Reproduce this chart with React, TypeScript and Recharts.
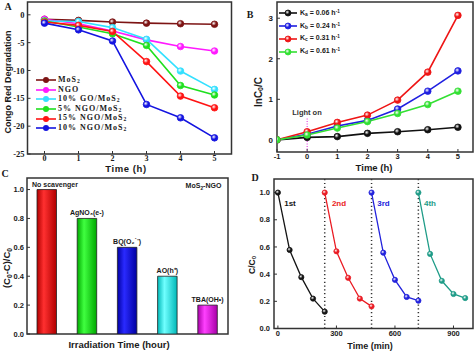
import React from 'react';
import { LineChart, Line, BarChart, Bar, Cell, XAxis, YAxis, ReferenceArea, ReferenceLine, LabelList } from 'recharts';

const SANS = '"Liberation Sans", Arial, sans-serif';
const SERIF = '"Liberation Serif", "Times New Roman", serif';
const INK = '#1a1a1a';

// panel A - Congo red degradation vs time
const hoursA = [0, 1, 2, 3, 4, 5];
const mos2 = [-0.8, -1.0, -1.3, -1.5, -1.6, -1.7];
const ngo = [-0.8, -1.6, -2.9, -4.5, -5.7, -6.5];
const go10 = [-1.1, -1.2, -2.3, -4.4, -10.1, -13.4];
const ngo5 = [-1.1, -2.2, -3.4, -5.5, -12.7, -14.4];
const ngo15 = [-1.3, -1.9, -3.0, -8.4, -14.6, -16.7];
const ngo10 = [-1.5, -2.7, -4.7, -16.1, -18.5, -22.1];
const yTicksA = [0, -5, -10, -15, -20, -25];

// panel B - ln(C0/C) vs time
const hoursB = [-1, 0, 1, 2, 3, 4, 5];
const kA = [0, 0.06, 0.08, 0.16, 0.2, 0.25, 0.31];
const kB = [0, 0.14, 0.34, 0.48, 0.76, 1.2, 1.7];
const kC = [0, 0.2, 0.43, 0.61, 0.98, 1.67, 3.07];
const kD = [0, 0.12, 0.29, 0.45, 0.65, 0.87, 1.2];
const yTicksB = [0, 1, 2, 3];

// panel C - scavenger test
const scavengers = ['No scavenger', 'AgNO₃(e-)', 'BQ(O₂˙⁻)', 'AO(h⁺)', 'TBA(OH•)'];
const removal = [1.0, 0.8, 0.6, 0.4, 0.2];
const yTicksCD = [0, 0.2, 0.4, 0.6, 0.8, 1.0];

// panel D - recycling runs
const cycleNames = ['1st', '2nd', '3rd', '4th'];
const cycleTimes = [
  [0, 60, 120, 180, 240],
  [240, 300, 360, 420, 480],
  [480, 540, 600, 660, 720],
  [720, 780, 840, 900, 960],
];
const cycle1 = [1.0, 0.578, 0.378, 0.22, 0.124];
const cycle2 = [1.0, 0.568, 0.373, 0.22, 0.163];
const cycle3 = [1.0, 0.558, 0.358, 0.232, 0.205];
const cycle4 = [1.0, 0.549, 0.351, 0.254, 0.224];
const runBreaks = [240, 480, 720];
const xTicksD = [0, 300, 600, 900];

const rowsA = hoursA.map((t, i) => ({ t, mos2: mos2[i], ngo: ngo[i], go10: go10[i], ngo5: ngo5[i], ngo15: ngo15[i], ngo10: ngo10[i] }));
const rowsB = hoursB.map((t, i) => ({ t, a: kA[i], b: kB[i], c: kC[i], d: kD[i] }));
const rowsC = scavengers.map((name, i) => ({ x: i + 1, name, v: removal[i] }));
const cycles = [cycle1, cycle2, cycle3, cycle4].map((vals, c) => vals.map((v, i) => ({ t: cycleTimes[c][i], v })));

const Sub = ({ children }: { children: React.ReactNode }) => (
  <span style={{ fontSize: '70%', verticalAlign: '-0.25em' }}>{children}</span>
);
const Sup = ({ children }: { children: React.ReactNode }) => (
  <span style={{ fontSize: '65%', verticalAlign: '0.5em' }}>{children}</span>
);

const seriesA = [
  { key: 'mos2', color: '#7d1414', label: <>MoS<Sub>2</Sub></> },
  { key: 'ngo', color: '#ff1aff', label: <>NGO</> },
  { key: 'go10', color: '#33e0ff', label: <>10% GO/MoS<Sub>2</Sub></> },
  { key: 'ngo5', color: '#1fe01f', label: <>5% NGO/MoS<Sub>2</Sub></> },
  { key: 'ngo15', color: '#ff1414', label: <>15% NGO/MoS<Sub>2</Sub></> },
  { key: 'ngo10', color: '#1414e0', label: <>10% NGO/MoS<Sub>2</Sub></> },
];

const seriesB = [
  { key: 'a', color: '#111111', sub: 'a', k: '0.06' },
  { key: 'b', color: '#1f1fe0', sub: 'b', k: '0.24' },
  { key: 'c', color: '#ee1515', sub: 'c', k: '0.31' },
  { key: 'd', color: '#33e033', sub: 'd', k: '0.61' },
];

const barColors = [
  ['#b00000', '#ff3030'],
  ['#00a800', '#40ff40'],
  ['#0000a0', '#2a2aff'],
  ['#00b8b8', '#70ffff'],
  ['#a800a8', '#ff40ff'],
];

const cycleColors = ['#151515', '#ea1c24', '#2222dc', '#1f9c88'];

const ballGrad = (id: string, color: string) => (
  <radialGradient id={id} key={id} cx="38%" cy="35%" r="65%">
    <stop offset="0%" stopColor="#ffffff" />
    <stop offset="55%" stopColor={color} />
    <stop offset="100%" stopColor={color} />
  </radialGradient>
);

const ballDot = (id: string, color: string, r: number) => (p: any) => {
  if (p.cx == null || p.cy == null) return <g key={p.key} />;
  return <circle key={p.key} cx={p.cx} cy={p.cy} r={r} fill={`url(#${id})`} stroke={color} strokeWidth={0.8} />;
};

const at = (x: number, y: number, extra: React.CSSProperties = {}, rotate = false): React.CSSProperties => ({
  position: 'absolute',
  left: x,
  top: y,
  transform: `translate(-50%, -50%)${rotate ? ' rotate(-90deg)' : ''}`,
  whiteSpace: 'nowrap',
  lineHeight: 1,
  color: INK,
  ...extra,
});

const serifTick = { fontSize: 8, fontFamily: SERIF, fontWeight: 'bold', fill: INK };
const sansTick = { fontSize: 7.5, fontFamily: SANS, fontWeight: 'bold', fill: INK };

const BarLabel = (p: any) => {
  const { x, y, width, index, value } = p;
  const first = index === 0;
  return (
    <text
      x={first ? x - 5 : x + width / 2}
      y={y - 3}
      textAnchor={first ? 'start' : 'middle'}
      fontSize={7}
      fontFamily={SANS}
      fontWeight="bold"
      fill={INK}
    >
      {value}
    </text>
  );
};

function PanelA() {
  return (
    <div style={{ position: 'absolute', left: 0, top: 0 }}>
      <LineChart width={237} height={175} data={rowsA} margin={{ top: 2, right: 5.5, bottom: 0, left: 0 }}>
        <defs>{seriesA.map((s) => ballGrad(`ballA-${s.key}`, s.color))}</defs>
        <XAxis dataKey="t" type="number" domain={[-0.5, 5.5]} ticks={hoursA} allowDataOverflow height={21}
          tickSize={-3} tickMargin={4.5} axisLine={false} tickLine={{ stroke: '#333' }} tick={serifTick} />
        <YAxis type="number" domain={[-25, 2.3]} ticks={yTicksA} allowDataOverflow width={27.5}
          tickSize={-3} tickMargin={6} axisLine={false} tickLine={{ stroke: '#333' }} tick={{ ...serifTick, fontSize: 8.5 }} />
        <ReferenceArea x1={-0.5} x2={5.5} y1={-25} y2={2.3} fill="none" stroke="#333" strokeWidth={1.5} ifOverflow="visible" />
        {seriesA.map((s) => (
          <Line key={s.key} dataKey={s.key} stroke={s.color} strokeWidth={1.6} isAnimationActive={false}
            dot={ballDot(`ballA-${s.key}`, s.color, 3.3)} />
        ))}
      </LineChart>
      <div style={at(8, 7, { fontFamily: SERIF, fontWeight: 'bold', fontSize: 10 })}>A</div>
      <div style={at(7.5, 82, { fontFamily: SANS, fontWeight: 'bold', fontSize: 9 }, true)}>Congo Red Degradation</div>
      <div style={at(126, 168.5, { fontFamily: SANS, fontWeight: 'bold', fontSize: 9.5, letterSpacing: 0.6 })}>Time (h)</div>
      <div style={{ position: 'absolute', left: 36, top: 75.5 }}>
        {seriesA.map((s) => (
          <div key={s.key} style={{ height: 9.6, display: 'flex', alignItems: 'center' }}>
            <svg width={20} height={8} style={{ marginRight: 2 }}>
              <line x1={0} x2={20} y1={4} y2={4} stroke={s.color} strokeWidth={1.6} />
              <circle cx={10} cy={4} r={3} fill={s.color} />
            </svg>
            <span style={{ fontFamily: SERIF, fontWeight: 'bold', fontSize: 8, letterSpacing: 1, color: INK, lineHeight: 1 }}>
              {s.label}
            </span>
          </div>
        ))}
      </div>
    </div>
  );
}

function PanelB() {
  return (
    <div style={{ position: 'absolute', left: 237, top: 0 }}>
      <LineChart width={237} height={175} data={rowsB} margin={{ top: 2, right: 1, bottom: 0, left: 0 }}>
        <defs>{seriesB.map((s) => ballGrad(`ballB-${s.key}`, s.color))}</defs>
        <XAxis dataKey="t" type="number" domain={[-1, 5.5]} ticks={hoursB} allowDataOverflow height={23}
          tickSize={-3} tickMargin={5} axisLine={false} tickLine={{ stroke: '#333' }} tick={sansTick} />
        <YAxis type="number" domain={[-0.3, 3.4]} ticks={yTicksB} allowDataOverflow width={40}
          tickSize={-3} tickMargin={7} axisLine={false} tickLine={{ stroke: '#333' }} tick={{ ...sansTick, fontSize: 8 }} />
        <ReferenceArea x1={-1} x2={5.5} y1={-0.3} y2={3.4} fill="none" stroke="#333" strokeWidth={1.5} ifOverflow="visible" />
        <ReferenceLine segment={[{ x: 0, y: -0.3 }, { x: 0, y: 0.55 }]} stroke="#e020e0" strokeDasharray="1 1.5" strokeWidth={1} />
        {seriesB.map((s) => (
          <Line key={s.key} dataKey={s.key} stroke={s.color} strokeWidth={1.6} isAnimationActive={false}
            dot={ballDot(`ballB-${s.key}`, s.color, 3.3)} />
        ))}
      </LineChart>
      <div style={at(13, 15, { fontFamily: SERIF, fontWeight: 'bold', fontSize: 10 })}>B</div>
      <div style={at(22, 92, { fontFamily: SANS, fontWeight: 'bold', fontSize: 10 }, true)}>lnC<Sub>0</Sub>/C</div>
      <div style={at(137, 168, { fontFamily: SANS, fontWeight: 'bold', fontSize: 9.5 })}>Time (h)</div>
      <div style={at(70, 113, { fontFamily: SANS, fontWeight: 'bold', fontSize: 7.5, color: '#333' })}>Light on</div>
      <div style={{ position: 'absolute', left: 42, top: 7 }}>
        {seriesB.map((s) => (
          <div key={s.key} style={{ height: 12.8, display: 'flex', alignItems: 'center' }}>
            <svg width={18} height={8} style={{ marginRight: 3 }}>
              <line x1={0} x2={18} y1={4} y2={4} stroke={s.color} strokeWidth={1.6} />
              <circle cx={9} cy={4} r={3} fill={`url(#ballB-${s.key})`} stroke={s.color} strokeWidth={0.8} />
            </svg>
            <span style={{ fontFamily: SANS, fontWeight: 'bold', fontSize: 7, color: INK, lineHeight: 1 }}>
              K<Sub>{s.sub}</Sub> = {s.k} h<Sup>-1</Sup>
            </span>
          </div>
        ))}
      </div>
    </div>
  );
}

function PanelC() {
  return (
    <div style={{ position: 'absolute', left: 0, top: 175 }}>
      <BarChart width={237} height={176} data={rowsC} margin={{ top: 3, right: 9, bottom: 0, left: 0 }}>
        <defs>
          {barColors.map(([dark, light], i) => (
            <linearGradient key={i} id={`barC-${i}`} x1="0" x2="1" y1="0" y2="0">
              <stop offset="0%" stopColor={dark} />
              <stop offset="35%" stopColor={light} />
              <stop offset="100%" stopColor={dark} />
            </linearGradient>
          ))}
        </defs>
        <XAxis dataKey="x" type="number" domain={[0.5, 5.5]} ticks={[1, 2, 3, 4, 5]} allowDataOverflow height={17}
          tick={false} tickLine={false} axisLine={false} />
        <YAxis type="number" domain={[0, 1.08]} ticks={yTicksCD} allowDataOverflow width={27}
          tickSize={-3} tickMargin={6} axisLine={false} tickLine={{ stroke: '#333' }} tick={{ ...sansTick, fontSize: 7.5 }}
          tickFormatter={(v: number) => v.toFixed(1)} />
        <ReferenceArea x1={0.5} x2={5.5} y1={0} y2={1.08} fill="none" stroke="#333" strokeWidth={1.5} ifOverflow="visible" />
        <Bar dataKey="v" barSize={19.5} stroke="#222" strokeWidth={0.8} isAnimationActive={false}>
          {rowsC.map((r, i) => (
            <Cell key={r.name} fill={`url(#barC-${i})`} />
          ))}
          <LabelList dataKey="name" content={BarLabel} />
        </Bar>
      </BarChart>
      <div style={at(5, -1.5, { fontFamily: SERIF, fontWeight: 'bold', fontSize: 10 })}>C</div>
      <div style={at(8, 93, { fontFamily: SANS, fontWeight: 'bold', fontSize: 9.5 }, true)}>(C<Sub>0</Sub>-C)/C<Sub>0</Sub></div>
      <div style={at(119, 170, { fontFamily: SANS, fontWeight: 'bold', fontSize: 9.5 })}>Irradiation Time (hour)</div>
      <div style={at(203.5, 12, { fontFamily: SANS, fontWeight: 'bold', fontSize: 7 })}>MoS<Sub>2</Sub>-NGO</div>
    </div>
  );
}

function PanelD() {
  return (
    <div style={{ position: 'absolute', left: 237, top: 175 }}>
      <LineChart width={237} height={176} margin={{ top: 4, right: 1, bottom: 0, left: 0 }}>
        <defs>{cycleColors.map((c, i) => ballGrad(`ballD-${i}`, c))}</defs>
        <XAxis dataKey="t" type="number" domain={[-20, 1000]} ticks={xTicksD} allowDataOverflow height={22.5}
          tickSize={-3} tickMargin={5} axisLine={false} tickLine={{ stroke: '#333' }} tick={sansTick} />
        <YAxis type="number" domain={[0, 1.1]} ticks={yTicksCD} allowDataOverflow width={37}
          tickSize={-3} tickMargin={7} axisLine={false} tickLine={{ stroke: '#333' }} tick={sansTick}
          tickFormatter={(v: number) => v.toFixed(1)} />
        <ReferenceArea x1={-20} x2={1000} y1={0} y2={1.1} fill="none" stroke="#333" strokeWidth={1.5} ifOverflow="visible" />
        {runBreaks.map((x) => (
          <ReferenceLine key={x} x={x} stroke="#333" strokeDasharray="1.2 2.6" strokeWidth={1.5} />
        ))}
        {cycles.map((data, i) => (
          <Line key={cycleNames[i]} data={data} dataKey="v" stroke={cycleColors[i]} strokeWidth={1.3}
            isAnimationActive={false} dot={ballDot(`ballD-${i}`, cycleColors[i], 2.6)} />
        ))}
      </LineChart>
      <div style={at(18, 2.5, { fontFamily: SERIF, fontWeight: 'bold', fontSize: 10 })}>D</div>
      <div style={at(16, 90, { fontFamily: SANS, fontWeight: 'bold', fontSize: 8.5 }, true)}>C/C<Sub>0</Sub></div>
      <div style={at(133, 170.5, { fontFamily: SANS, fontWeight: 'bold', fontSize: 9 })}>Time (min)</div>
      {cycleNames.map((n, i) => (
        <div key={n} style={at([53, 102, 146.5, 193][i], 29, { fontFamily: SANS, fontWeight: 'bold', fontSize: 8, color: cycleColors[i] })}>
          {n}
        </div>
      ))}
    </div>
  );
}

export default function App() {
  return (
    <div style={{ position: 'absolute', left: 0, top: 0, width: 474, height: 351, background: '#fff', overflow: 'hidden' }}>
      <PanelA />
      <PanelB />
      <PanelC />
      <PanelD />
    </div>
  );
}
